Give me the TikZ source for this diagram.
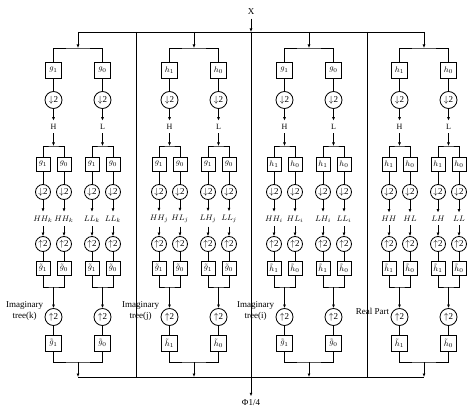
\documentclass[tikz,border=0pt]{standalone}
\usepackage{fontspec}
\setmainfont{Liberation Serif}
\usetikzlibrary{arrows.meta}

\tikzset{
  filt/.style={draw,inner sep=0pt,minimum width=16pt,minimum height=16pt,fill=white},
  sfilt/.style={filt,minimum width=14pt,minimum height=14pt},
  samp/.style={draw,circle,inner sep=0pt,minimum size=17pt,font=\fontsize{9}{10}\selectfont},
  ssamp/.style={samp,minimum size=15pt},
  arr/.style={-{Latex[length=3.5pt,width=3pt]}},
}

\begin{document}
\begin{tikzpicture}[x=1pt,y=-1pt,line width=0.8pt,font=\fontsize{8}{9}\selectfont]
      \useasboundingbox (0,0) rectangle (474,414) ;
      % input and output
      \node (X) at (251,12) {\fontsize{9}{10}\selectfont X} ;
      \coordinate (top) at (251,32) ;
      \node (Phi) at (251,403) {\fontsize{9}{10}\selectfont Φ1/4} ;
      \draw[arr] (X) -- (top) ;
      \draw[arr] (top) -- (Phi) ;
      % separators
      \draw[line width=0.5pt] (136,32) -- (136,377) ;
      \draw[line width=0.5pt] (367,32) -- (367,377) ;
      % the four trees
      \foreach \cx/\n/\ta/\tb/\sa/\sb/\ra/\rb/\fa/\fb/\la/\lb/\lc/\ld/\tg in {%
        78/k/g_1/g_0/g_1/g_0/\tilde{g}_1/\tilde{g}_0/\tilde{g}_1/\tilde{g}_0/HH_k/HH_k/LL_k/LL_k/{Imaginary\\tree(k)},%
        194/j/h_1/h_0/g_1/g_0/\tilde{g}_1/\tilde{g}_0/\tilde{h}_1/\tilde{h}_0/HH_j/HL_j/LH_j/LL_j/{Imaginary\\tree(j)},%
        309/i/g_1/g_0/h_1/h_0/\tilde{h}_1/\tilde{h}_0/\tilde{g}_1/\tilde{g}_0/HH_i/HL_i/LH_i/LL_i/{Imaginary\\tree(i)},%
        424/r/h_1/h_0/h_1/h_0/\tilde{h}_1/\tilde{h}_0/\tilde{h}_1/\tilde{h}_0/HH/HL/LH/LL/{Real Part}} {
        \coordinate (in\n) at (\cx,32) ;
        \coordinate (sp\n) at (\cx,48) ;
        \draw[arr] (in\n) -- (sp\n) ;
        % first level
        \node[filt] (A\n) at (\cx-24.5,70) {$\ta$} ;
        \node[filt] (B\n) at (\cx+24.5,70) {$\tb$} ;
        \draw (A\n.north) |- (sp\n) -| (B\n.north) ;
        \node[samp] (dA\n) at (\cx-24.5,100) {$\downarrow$2} ;
        \node[samp] (dB\n) at (\cx+24.5,100) {$\downarrow$2} ;
        \draw (A\n) -- (dA\n) ;
        \draw (B\n) -- (dB\n) ;
        \node (H\n) at (\cx-24.5,127) {H} ;
        \node (L\n) at (\cx+24.5,127) {L} ;
        \draw[arr] (dA\n) -- (H\n) ;
        \draw[arr] (dB\n) -- (L\n) ;
        \coordinate (spH\n) at (\cx-24.5,146) ;
        \coordinate (spL\n) at (\cx+24.5,146) ;
        \draw[arr] (H\n) -- (spH\n) ;
        \draw[arr] (L\n) -- (spL\n) ;
        % second level
        \node[sfilt] (s1\n) at (\cx-35,164) {$\sa$} ;
        \node[sfilt] (s2\n) at (\cx-14,164) {$\sb$} ;
        \node[sfilt] (s3\n) at (\cx+14,164) {$\sa$} ;
        \node[sfilt] (s4\n) at (\cx+35,164) {$\sb$} ;
        \draw (s1\n.north) |- (spH\n) -| (s2\n.north) ;
        \draw (s3\n.north) |- (spL\n) -| (s4\n.north) ;
        \node[ssamp] (d1\n) at (\cx-35,192) {$\downarrow$2} ;
        \node[ssamp] (d2\n) at (\cx-14,192) {$\downarrow$2} ;
        \node[ssamp] (d3\n) at (\cx+14,192) {$\downarrow$2} ;
        \node[ssamp] (d4\n) at (\cx+35,192) {$\downarrow$2} ;
        \node (l1\n) at (\cx-35,219) {$\la$} ;
        \node (l2\n) at (\cx-14,219) {$\lb$} ;
        \node (l3\n) at (\cx+14,219) {$\lc$} ;
        \node (l4\n) at (\cx+35,219) {$\ld$} ;
        \node[ssamp] (u1\n) at (\cx-35,244) {$\uparrow$2} ;
        \node[ssamp] (u2\n) at (\cx-14,244) {$\uparrow$2} ;
        \node[ssamp] (u3\n) at (\cx+14,244) {$\uparrow$2} ;
        \node[ssamp] (u4\n) at (\cx+35,244) {$\uparrow$2} ;
        \node[sfilt] (r1\n) at (\cx-35,268) {$\ra$} ;
        \node[sfilt] (r2\n) at (\cx-14,268) {$\rb$} ;
        \node[sfilt] (r3\n) at (\cx+14,268) {$\ra$} ;
        \node[sfilt] (r4\n) at (\cx+35,268) {$\rb$} ;
        \foreach \m in {1,2,3,4} {
          \draw (s\m\n) -- (d\m\n) ;
          \draw[arr] (d\m\n) -- (l\m\n) ;
          \draw[arr] (l\m\n) -- (u\m\n) ;
          \draw (u\m\n) -- (r\m\n) ;
        }
        % synthesis
        \coordinate (mA\n) at (\cx-24.5,287) ;
        \coordinate (mB\n) at (\cx+24.5,287) ;
        \draw (r1\n.south) |- (mA\n) -| (r2\n.south) ;
        \draw (r3\n.south) |- (mB\n) -| (r4\n.south) ;
        \node[samp] (UA\n) at (\cx-24.5,317) {$\uparrow$2} ;
        \node[samp] (UB\n) at (\cx+24.5,317) {$\uparrow$2} ;
        \draw[arr] (mA\n) -- (UA\n) ;
        \draw[arr] (mB\n) -- (UB\n) ;
        \node[filt] (FA\n) at (\cx-24.5,343) {$\fa$} ;
        \node[filt] (FB\n) at (\cx+24.5,343) {$\fb$} ;
        \draw (UA\n) -- (FA\n) ;
        \draw (UB\n) -- (FB\n) ;
        \coordinate (out\n) at (\cx,362) ;
        \coordinate (end\n) at (\cx,377) ;
        \draw (FA\n.south) |- (out\n) -| (FB\n.south) ;
        \draw[arr] (out\n) -- (end\n) ;
        \node[align=center,anchor=east,inner sep=1pt,yshift=6pt,
          font=\fontsize{9}{11}\selectfont] (tag\n) at (UA\n.west) {\tg} ;
      }
      \draw (ink) -- (inr) ;
      \draw (endk) -- (endr) ;
    \end{tikzpicture}
\end{document}
